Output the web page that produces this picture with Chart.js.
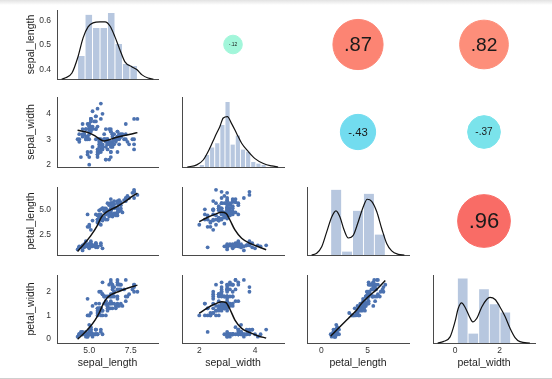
<!DOCTYPE html>
<html>
<head>
<meta charset="utf-8">
<script src="https://cdn.jsdelivr.net/npm/chart.js@4.4.1/dist/chart.umd.min.js"></script>
<style>
  body { margin: 0; background: #fff; width: 552px; height: 379px; overflow: hidden; position: relative; }
  #shade { position: absolute; left: 0; top: 0; width: 552px; height: 5px; background: linear-gradient(#e2e2e2, #fff); }
  #rule { position: absolute; left: 0; top: 378px; width: 552px; height: 1px; background: #cfcfcf; }
</style>
</head>
<body>
<div id="shade"></div>
<div id="rule"></div>
<script>
// iris measurements (150 rows)
const varNames = ['sepal_length', 'sepal_width', 'petal_length', 'petal_width'];

const sepalLength = [
  5.1,4.9,4.7,4.6,5.0,5.4,4.6,5.0,4.4,4.9,5.4,4.8,4.8,4.3,5.8,5.7,5.4,5.1,5.7,5.1,5.4,5.1,4.6,5.1,4.8,
  5.0,5.0,5.2,5.2,4.7,4.8,5.4,5.2,5.5,4.9,5.0,5.5,4.9,4.4,5.1,5.0,4.5,4.4,5.0,5.1,4.8,5.1,4.6,5.3,5.0,
  7.0,6.4,6.9,5.5,6.5,5.7,6.3,4.9,6.6,5.2,5.0,5.9,6.0,6.1,5.6,6.7,5.6,5.8,6.2,5.6,5.9,6.1,6.3,6.1,6.4,
  6.6,6.8,6.7,6.0,5.7,5.5,5.5,5.8,6.0,5.4,6.0,6.7,6.3,5.6,5.5,5.5,6.1,5.8,5.0,5.6,5.7,5.7,6.2,5.1,5.7,
  6.3,5.8,7.1,6.3,6.5,7.6,4.9,7.3,6.7,7.2,6.5,6.4,6.8,5.7,5.8,6.4,6.5,7.7,7.7,6.0,6.9,5.6,7.7,6.3,6.7,
  7.2,6.2,6.1,6.4,7.2,7.4,7.9,6.4,6.3,6.1,7.7,6.3,6.4,6.0,6.9,6.7,6.9,5.8,6.8,6.7,6.7,6.3,6.5,6.2,5.9
];
const sepalWidth = [
  3.5,3.0,3.2,3.1,3.6,3.9,3.4,3.4,2.9,3.1,3.7,3.4,3.0,3.0,4.0,4.4,3.9,3.5,3.8,3.8,3.4,3.7,3.6,3.3,3.4,
  3.0,3.4,3.5,3.4,3.2,3.1,3.4,4.1,4.2,3.1,3.2,3.5,3.6,3.0,3.4,3.5,2.3,3.2,3.5,3.8,3.0,3.8,3.2,3.7,3.3,
  3.2,3.2,3.1,2.3,2.8,2.8,3.3,2.4,2.9,2.7,2.0,3.0,2.2,2.9,2.9,3.1,3.0,2.7,2.2,2.5,3.2,2.8,2.5,2.8,2.9,
  3.0,2.8,3.0,2.9,2.6,2.4,2.4,2.7,2.7,3.0,3.4,3.1,2.3,3.0,2.5,2.6,3.0,2.6,2.3,2.7,3.0,2.9,2.9,2.5,2.8,
  3.3,2.7,3.0,2.9,3.0,3.0,2.5,2.9,2.5,3.6,3.2,2.7,3.0,2.5,2.8,3.2,3.0,3.8,2.6,2.2,3.2,2.8,2.8,2.7,3.3,
  3.2,2.8,3.0,2.8,3.0,2.8,3.8,2.8,2.8,2.6,3.0,3.4,3.1,3.0,3.1,3.1,3.1,2.7,3.2,3.3,3.0,2.5,3.0,3.4,3.0
];
const petalLength = [
  1.4,1.4,1.3,1.5,1.4,1.7,1.4,1.5,1.4,1.5,1.5,1.6,1.4,1.1,1.2,1.5,1.3,1.4,1.7,1.5,1.7,1.5,1.0,1.7,1.9,
  1.6,1.6,1.5,1.4,1.6,1.6,1.5,1.5,1.4,1.5,1.2,1.3,1.4,1.3,1.5,1.3,1.3,1.3,1.6,1.9,1.4,1.6,1.4,1.5,1.4,
  4.7,4.5,4.9,4.0,4.6,4.5,4.7,3.3,4.6,3.9,3.5,4.2,4.0,4.7,3.6,4.4,4.5,4.1,4.5,3.9,4.8,4.0,4.9,4.7,4.3,
  4.4,4.8,5.0,4.5,3.5,3.8,3.7,3.9,5.1,4.5,4.5,4.7,4.4,4.1,4.0,4.4,4.6,4.0,3.3,4.2,4.2,4.2,4.3,3.0,4.1,
  6.0,5.1,5.9,5.6,5.8,6.6,4.5,6.3,5.8,6.1,5.1,5.3,5.5,5.0,5.1,5.3,5.5,6.7,6.9,5.0,5.7,4.9,6.7,4.9,5.7,
  6.0,4.8,4.9,5.6,5.8,6.1,6.4,5.6,5.1,5.6,6.1,5.6,5.5,4.8,5.4,5.6,5.1,5.1,5.9,5.7,5.2,5.0,5.2,5.4,5.1
];
const petalWidth = [
  0.2,0.2,0.2,0.2,0.2,0.4,0.3,0.2,0.2,0.1,0.2,0.2,0.1,0.1,0.2,0.4,0.4,0.3,0.3,0.3,0.2,0.4,0.2,0.5,0.2,
  0.2,0.4,0.2,0.2,0.2,0.2,0.4,0.1,0.2,0.2,0.2,0.2,0.1,0.2,0.2,0.3,0.3,0.2,0.6,0.4,0.3,0.2,0.2,0.2,0.2,
  1.4,1.5,1.5,1.3,1.5,1.3,1.6,1.0,1.3,1.4,1.0,1.5,1.0,1.4,1.3,1.4,1.5,1.0,1.5,1.1,1.8,1.3,1.5,1.2,1.3,
  1.4,1.4,1.7,1.5,1.0,1.1,1.0,1.2,1.6,1.5,1.6,1.5,1.3,1.3,1.3,1.2,1.4,1.2,1.0,1.3,1.2,1.3,1.3,1.1,1.3,
  2.5,1.9,2.1,1.8,2.2,2.1,1.7,1.8,1.8,2.5,2.0,1.9,2.1,2.0,2.4,2.3,1.8,2.2,2.3,1.5,2.3,2.0,2.0,1.8,2.1,
  1.8,1.8,1.8,2.1,1.6,1.9,2.0,2.2,1.5,1.4,2.3,2.4,1.8,1.8,2.1,2.4,2.3,1.9,2.3,2.5,2.3,1.9,2.0,2.3,1.8
];
const columns = [sepalLength, sepalWidth, petalLength, petalWidth];

// diagonal histograms + kde
const slBinCenters = [4.525, 4.975, 5.425, 5.875, 6.325, 6.775, 7.225, 7.675];
const slBinHeights = [0.455, 0.625, 0.571, 0.571, 0.633, 0.505, 0.422, 0.414];
const slKdeX = [3.34, 3.54, 3.96, 4.32, 4.63, 4.93, 5.23, 5.65, 5.95, 6.25, 6.55, 6.85, 7.15, 7.58, 7.88, 8.18, 8.54, 8.86];
const slKdeY = [0.360, 0.364, 0.385, 0.451, 0.530, 0.575, 0.592, 0.596, 0.596, 0.579, 0.534, 0.480, 0.431, 0.410, 0.398, 0.377, 0.364, 0.360];

const swBinCenters = [2.092, 2.277, 2.462, 2.646, 2.831, 3.015, 3.200, 3.385, 3.569, 3.754, 3.938, 4.123, 4.308];
const swBinHeights = [0.03, 0.17, 0.28, 0.34, 0.60, 0.93, 0.32, 0.45, 0.25, 0.22, 0.07, 0.05, 0.03];
const swKdeX = [1.57, 1.91, 2.14, 2.38, 2.56, 2.74, 2.86, 3.01, 3.16, 3.34, 3.52, 3.76, 4.00, 4.30, 4.60, 4.83];
const swKdeY = [0, 0.03, 0.10, 0.27, 0.43, 0.58, 0.70, 0.72, 0.62, 0.48, 0.34, 0.22, 0.12, 0.05, 0.015, 0];

const plBinCenters = [1.59, 2.77, 3.95, 5.13, 6.31];
const plBinHeights = [0.96, 0.05, 0.65, 0.90, 0.30];
const plKdeX = [-1.06, -0.51, 0.03, 0.57, 1.11, 1.57, 2.00, 2.44, 2.90, 3.44, 3.98, 4.52, 4.95, 5.43, 5.97, 6.51, 7.05, 7.59, 8.30, 8.96];
const plKdeY = [0, 0.025, 0.12, 0.34, 0.56, 0.65, 0.56, 0.37, 0.25, 0.29, 0.49, 0.71, 0.82, 0.79, 0.64, 0.39, 0.17, 0.06, 0.01, 0];

const pwBinCenters = [0.34, 0.82, 1.30, 1.78, 2.26];
const pwBinHeights = [0.95, 0.14, 0.79, 0.57, 0.45];
const pwKdeX = [-0.79, -0.54, -0.23, -0.01, 0.14, 0.29, 0.44, 0.64, 0.79, 0.97, 1.20, 1.42, 1.57, 1.80, 2.02, 2.25, 2.47, 2.70, 2.92, 3.37];
const pwKdeY = [0, 0.02, 0.09, 0.31, 0.51, 0.59, 0.53, 0.39, 0.31, 0.36, 0.53, 0.64, 0.67, 0.64, 0.53, 0.39, 0.22, 0.08, 0.02, 0];

// lowess trend lines in the lower triangle
const swBySlX = [4.3, 4.94, 5.35, 5.65, 5.89, 6.15, 6.55, 7.05, 7.56, 7.9];
const swBySlY = [3.35, 3.26, 3.13, 3.00, 2.93, 2.97, 3.06, 3.14, 3.21, 3.26];
const plBySlX = [4.3, 4.64, 5.05, 5.45, 5.69, 5.89, 6.25, 6.65, 7.15, 7.56, 7.9];
const plBySlY = [0.90, 1.53, 2.34, 3.31, 4.12, 4.54, 4.93, 5.25, 5.74, 6.23, 6.58];
const pwBySlX = [4.3, 4.64, 5.05, 5.35, 5.59, 5.81, 6.05, 6.35, 6.75, 7.25, 7.9];
const pwBySlY = [-0.01, 0.21, 0.52, 0.80, 1.09, 1.44, 1.72, 1.89, 2.00, 2.14, 2.28];
const plBySwX = [2.0, 2.27, 2.56, 2.80, 2.96, 3.10, 3.28, 3.52, 3.82, 4.12, 4.4];
const plBySwY = [3.79, 4.18, 4.51, 4.71, 4.61, 3.96, 2.99, 2.18, 1.69, 1.36, 1.06];
const pwBySwX = [2.0, 2.27, 2.56, 2.80, 2.96, 3.10, 3.28, 3.52, 3.82, 4.12, 4.4];
const pwBySwY = [1.09, 1.30, 1.48, 1.58, 1.54, 1.26, 0.80, 0.45, 0.27, 0.13, 0.04];
const pwByPlX = [1.0, 2.00, 2.90, 3.81, 4.35, 5.06, 5.97, 6.9];
const pwByPlY = [0.12, 0.52, 0.87, 1.23, 1.51, 1.79, 2.10, 2.48];

// correlation dots in the upper triangle: [row, col]
const corrCells = [[0, 1], [0, 2], [0, 3], [1, 2], [1, 3], [2, 3]];
const corrValues = [-0.12, 0.87, 0.82, -0.43, -0.37, 0.96];
const corrLabels = ['-.12', '.87', '.82', '-.43', '-.37', '.96'];
const corrColors = ['#a2f6da', '#fc8473', '#fd8e7a', '#72dcef', '#7ae3eb', '#f96c66'];

// axis limits and ticks
const xLimits = [[3.06, 9.14], [1.38, 5.04], [-1.56, 9.46], [-1.0, 3.6]];
const yLimits = [[0.36, 0.645], [1.91, 4.66], [0.555, 7.17], [-0.17, 2.71]];
const xTickValues = [[5.0, 7.5], [2, 4], [0, 5], [0, 2]];
const xTickLabels = [['5.0', '7.5'], ['2', '4'], ['0', '5'], ['0', '2']];
const yTickValues = [[0.4, 0.5, 0.6], [2, 3, 4], [2.5, 5.0], [0, 1, 2]];
const yTickLabels = [['0.4', '0.5', '0.6'], ['2', '3', '4'], ['2.5', '5.0'], ['0', '1', '2']];

const diagBins = [[slBinCenters, slBinHeights], [swBinCenters, swBinHeights], [plBinCenters, plBinHeights], [pwBinCenters, pwBinHeights]];
const diagKde = [[slKdeX, slKdeY], [swKdeX, swKdeY], [plKdeX, plKdeY], [pwKdeX, pwKdeY]];
const trends = {
  '1,0': [swBySlX, swBySlY], '2,0': [plBySlX, plBySlY], '3,0': [pwBySlX, pwBySlY],
  '2,1': [plBySwX, plBySwY], '3,1': [pwBySwX, pwBySwY], '3,2': [pwByPlX, pwByPlY]
};

// layout
const colLeft = [57, 182, 307, 433];
const colWidth = [101, 102, 102, 102];
const rowTop = [10, 97, 187, 275];
const rowHeight = [69, 70, 68, 68];
const PADL = 57, PADT = 14, PADR = 8, PADB = 32;
const FONT = '"Liberation Sans", Arial, Helvetica, sans-serif';
const AXIS = '#4a4a4a', TICK = '#333', LABEL = '#1e1e1e';
const DOT = '#4c72b0', BAR = 'rgba(76,114,176,0.4)', LINE = '#111';

Chart.defaults.font.family = FONT;
Chart.defaults.animation = false;

const corrText = {
  id: 'corrText',
  afterDatasetsDraw(chart, args, opts) {
    if (!opts || !opts.text) return;
    const el = chart.getDatasetMeta(0).data[0];
    const ctx = chart.ctx;
    ctx.save();
    ctx.font = opts.size + 'px ' + FONT;
    ctx.fillStyle = '#1a1a1a';
    ctx.textAlign = 'center';
    ctx.textBaseline = 'middle';
    ctx.fillText(opts.text, el.x, el.y + opts.size * 0.04);
    ctx.restore();
  }
};

function makeCanvas(r, c) {
  const cv = document.createElement('canvas');
  const w = PADL + colWidth[c] + PADR, h = PADT + rowHeight[r] + PADB;
  cv.width = w; cv.height = h;
  cv.style.cssText = 'position:absolute;left:' + (colLeft[c] - PADL) + 'px;top:' + (rowTop[r] - PADT) +
    'px;width:' + w + 'px;height:' + h + 'px';
  document.body.appendChild(cv);
  return cv;
}

function axisOpts(axis, lim, tickVals, tickLabels, showTicks, showTitle, title, showBorder) {
  return {
    type: 'linear', min: lim[0], max: lim[1], offset: false, beginAtZero: false,
    grid: { display: false, drawTicks: false },
    border: { display: showBorder, color: AXIS, width: 1 },
    afterBuildTicks: s => { s.ticks = tickVals.map(v => ({ value: v })); },
    afterFit: axis === 'x' ? s => { s.height = PADB; } : s => { s.width = PADL; },
    ticks: {
      display: showTicks, autoSkip: false, maxRotation: 0, color: TICK,
      font: { size: 8.5 }, padding: axis === 'x' ? 3 : 6,
      callback: (v, i) => tickLabels[i]
    },
    title: {
      display: showTitle, text: title, color: LABEL, font: { size: 10.5 },
      padding: axis === 'x' ? { top: 0, bottom: 6 } : { top: 25, bottom: 0 }
    }
  };
}

function baseOptions(xs, ys, extraPlugins) {
  return {
    responsive: false, devicePixelRatio: 1, animation: false, events: [],
    layout: { autoPadding: false, padding: { top: PADT, right: PADR, left: 0, bottom: 0 } },
    plugins: Object.assign({ legend: { display: false }, tooltip: { enabled: false } }, extraPlugins || {}),
    scales: { x: xs, y: ys }
  };
}

for (let r = 0; r < 4; r++) {
  for (let c = 0; c < 4; c++) {
    const cv = makeCanvas(r, c);
    const bottomRow = r === 3, leftCol = c === 0;

    if (r < c) {
      // correlation dot
      const k = corrCells.findIndex(p => p[0] === r && p[1] === c);
      const v = corrValues[k];
      const xs = axisOpts('x', [0, 1], [], [], false, false, '', false);
      const ys = axisOpts('y', [0, 1], [], [], false, false, '', false);
      new Chart(cv, {
        type: 'bubble',
        data: { datasets: [{
          data: [{ x: 0.5, y: 0.5, r: 26.9 * Math.sqrt(Math.abs(v)) }],
          backgroundColor: corrColors[k], borderColor: corrColors[k], borderWidth: 1, clip: false
        }] },
        options: baseOptions(xs, ys, { corrText: { text: corrLabels[k], size: 0.507 * (40 * Math.abs(v) + 5) } }),
        plugins: [corrText]
      });
      continue;
    }

    const xs = axisOpts('x', xLimits[c], xTickValues[c], xTickLabels[c], bottomRow, bottomRow, varNames[c], true);

    if (r === c) {
      const yl = r === 0 ? yLimits[0] : [0, 1];
      const ys = axisOpts('y', yl, yTickValues[r], yTickLabels[r], leftCol, leftCol, varNames[r], true);
      const [bx, bh] = diagBins[r];
      const [kx, ky] = diagKde[r];
      new Chart(cv, {
        type: 'bar',
        data: { datasets: [
          { type: 'line', data: kx.map((x, i) => ({ x, y: ky[i] })), borderColor: LINE, borderWidth: 1.2,
            pointRadius: 0, cubicInterpolationMode: 'monotone', fill: false, clip: false },
          { type: 'bar', data: bx.map((x, i) => ({ x, y: bh[i] })), base: yl[0], backgroundColor: BAR,
            borderColor: '#fff', borderWidth: { left: 0.8, right: 0.8, top: 0, bottom: 0 },
            barPercentage: 1, categoryPercentage: 1 }
        ] },
        options: baseOptions(xs, ys)
      });
      continue;
    }

    const ys = axisOpts('y', yLimits[r], yTickValues[r], yTickLabels[r], leftCol, leftCol, varNames[r], true);
    const xv = columns[c], yv = columns[r];
    const [tx, ty] = trends[r + ',' + c];
    new Chart(cv, {
      type: 'scatter',
      data: { datasets: [
        { type: 'line', data: tx.map((x, i) => ({ x, y: ty[i] })), borderColor: LINE, borderWidth: 1.5,
          pointRadius: 0, cubicInterpolationMode: 'monotone', fill: false, clip: false },
        { data: xv.map((x, i) => ({ x, y: yv[i] })), backgroundColor: DOT, borderWidth: 0,
          pointRadius: 1.9, clip: false }
      ] },
      options: baseOptions(xs, ys)
    });
  }
}
</script>
</body>
</html>
